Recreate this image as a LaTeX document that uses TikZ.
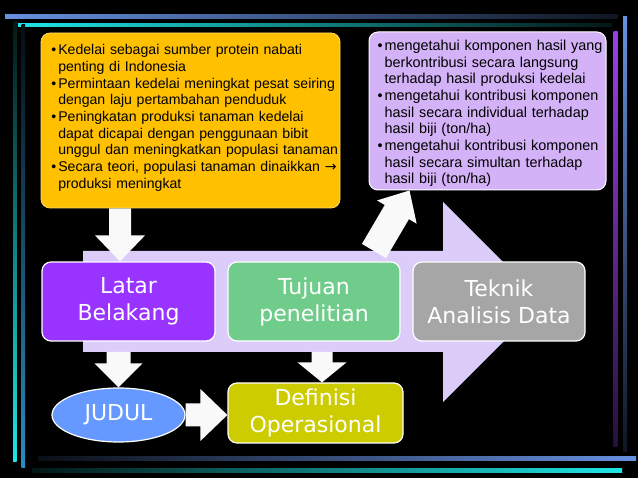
\documentclass[tikz,border=0pt]{standalone}
\usepackage{fontspec}
\setmainfont{Liberation Sans}
\newfontfamily\kotakfont{DejaVu Sans}
\usetikzlibrary{calc,shapes.geometric}

\definecolor{kuningtua}{HTML}{FFC000}
\definecolor{lilakotak}{HTML}{D4B2F7}
\definecolor{lila}{HTML}{DCCCFA}
\definecolor{ungutua}{HTML}{9933FF}
\definecolor{hijau}{HTML}{70CC8A}
\definecolor{abu}{HTML}{A6A6A6}
\definecolor{birumuda}{HTML}{6699FF}
\definecolor{zaitun}{HTML}{CCCC00}
\definecolor{biru}{HTML}{6690E0}
\definecolor{sian}{HTML}{1EE6E6}
\definecolor{biruteal}{HTML}{2A8CC0}
\definecolor{ungugaris}{HTML}{9B3FEA}

\tikzset{
  kotak/.style={rounded corners=9pt, draw=white, line width=1.2pt, text=white,
    align=center, inner sep=0pt, font=\kotakfont\fontsize{22pt}{27pt}\selectfont},
  butirteks/.style={inner sep=0pt, anchor=north west, align=left, text=black},
  panah/.style={fill=white!95!gray}
}

% bullet with hanging indent
\newcommand{\butir}{\par\noindent\hangindent=7pt\hangafter=1\makebox[7pt][l]{\textbullet}}

% block arrow: start, tip, half shaft width, half head width, head length
\newcommand{\panahblok}[5]{%
  \coordinate (leher) at ($(#2)!#5!(#1)$);
  \fill[panah] ($(#1)!#3!90:(#2)$) -- ($(leher)!#3!90:(#2)$) -- ($(leher)!#4!90:(#2)$)
    -- (#2) -- ($(leher)!#4!-90:(#2)$) -- ($(leher)!#3!-90:(#2)$) -- ($(#1)!#3!-90:(#2)$) -- cycle;
}

\begin{document}
\begin{tikzpicture}[x=1pt, y=-1pt]

    % Background
    \fill[black] (0,0) rectangle (638,478);
    \useasboundingbox (0,0) rectangle (638,478);

    % Frame lines
    \shade[left color=biru, right color=biru!15!black] (5,15) rectangle (618,19);
    \shade[left color=sian, right color=sian!10!black] (18,23.5) rectangle (612,27);
    \shade[top color=biru, bottom color=biru!15!black] (623,17) rectangle (627,452);
    \shade[top color=ungugaris, bottom color=ungugaris!25!black] (613.5,32) rectangle (617.5,447);
    \shade[left color=biru!10!black, right color=biru] (38,457) rectangle (636,461);
    \shade[left color=sian!10!black, right color=sian] (32,469) rectangle (622,473);
    \shade[top color=sian!10!black, bottom color=sian] (13,22) rectangle (16.5,462);
    \shade[top color=biruteal!10!black, bottom color=biruteal] (21.5,25) rectangle (25,468);

    % Big lilac arrow
    \coordinate (lilaatas) at (83,251);
    \coordinate (lilabawah) at (83,352);
    \fill[lila] (lilaatas) -- (443,251) -- (443,202) -- (543,302) -- (443,402) -- (443,352) -- (lilabawah) -- cycle;

    % Bullet boxes
    \node[fill=kuningtua, draw=kuningtua!60!white, line width=0.8pt, rounded corners=9pt,
        minimum width=299pt, minimum height=175pt] (kuning) at (190.5,120.5) {};
    \node[butirteks, text width=290pt, font=\fontsize{14.1pt}{16.7pt}\selectfont] (teksLatar)
        at ([xshift=10.5pt, yshift=-5.2pt]kuning.north west) {%
        \butir Kedelai sebagai sumber protein nabati\newline penting di Indonesia
        \butir Permintaan kedelai meningkat pesat seiring\newline dengan laju pertambahan penduduk
        \butir Peningkatan produksi tanaman kedelai\newline dapat dicapai dengan penggunaan bibit\newline unggul dan meningkatkan populasi tanaman
        \butir Secara teori, populasi tanaman dinaikkan {\kotakfont →}\newline produksi meningkat\par};

    \node[fill=lilakotak, draw=white, line width=1pt, rounded corners=9pt,
        minimum width=237pt, minimum height=158pt] (ungu) at (487.5,111) {};
    \node[butirteks, text width=232pt, font=\fontsize{14.4pt}{16.7pt}\selectfont] (teksTujuan)
        at ([xshift=9pt, yshift=-2pt]ungu.north west) {%
        \butir mengetahui komponen hasil yang\newline berkontribusi secara langsung\newline terhadap hasil produksi kedelai
        \butir mengetahui kontribusi komponen\newline hasil secara individual terhadap\newline hasil biji (ton/ha)
        \butir mengetahui kontribusi komponen\newline hasil secara simultan terhadap\newline hasil biji (ton/ha)\par};

    % Main boxes
    \node[kotak, fill=ungutua, minimum width=173pt, minimum height=79pt] (latar) at (128.5,301.5) {Latar\\Belakang};
    \node[kotak, fill=hijau, minimum width=172pt, minimum height=79pt] (tujuan) at (314,301.5) {Tujuan\\penelitian};
    \node[kotak, fill=abu, minimum width=172pt, minimum height=79pt] (teknik) at (499,301.5) {Teknik\\Analisis Data};
    \node[kotak, ellipse, fill=birumuda, minimum width=133pt, minimum height=54pt] (judul) at (118.5,415) {JUDUL};
    \node[kotak, fill=zaitun, minimum width=175pt, minimum height=60pt] (definisi) at (315.5,413) {Definisi\\Operasional};

    % White arrows
    \coordinate (a1u) at ([xshift=-8.5pt]latar.north);
    \coordinate (a1p) at (a1u |- kuning.south);
    \panahblok{a1p}{a1u}{11pt}{25pt}{26pt}

    \coordinate (a2p) at (judul.north |- lilabawah);
    \panahblok{a2p}{judul.north}{12pt}{24pt}{24pt}

    \coordinate (a3u) at ([xshift=6.5pt]definisi.north);
    \coordinate (a3p) at (a3u |- lilabawah);
    \panahblok{a3p}{a3u}{10.5pt}{24.5pt}{20pt}

    \coordinate (a4u) at (definisi.west |- judul.east);
    \panahblok{judul.east}{a4u}{11.5pt}{26pt}{27pt}

    \coordinate (a5u) at ([xshift=41pt]ungu.south west);
    \coordinate (a5p) at (374,251);
    \panahblok{a5p}{a5u}{14pt}{23pt}{25pt}

\end{tikzpicture}
\end{document}
